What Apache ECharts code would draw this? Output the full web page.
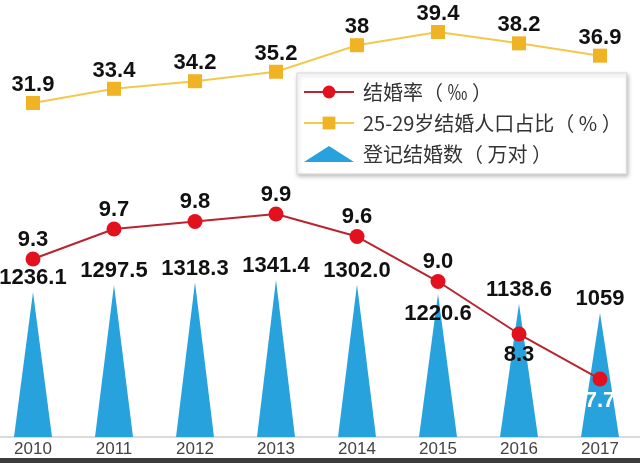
<!DOCTYPE html>
<html>
<head>
<meta charset="utf-8">
<script src="https://cdn.jsdelivr.net/npm/echarts@6/dist/echarts.min.js"></script>
<style>
  html, body { margin: 0; padding: 0; background: #fff; }
  #chart { width: 640px; height: 463px; }
</style>
</head>
<body>
<div id="chart"></div>
<script>
// 年份
const years = ['2010', '2011', '2012', '2013', '2014', '2015', '2016', '2017']
// 登记结婚数（万对）
const marriages = [1236.1, 1297.5, 1318.3, 1341.4, 1302.0, 1220.6, 1138.6, 1059]
// 结婚率（‰）
const rates = [9.3, 9.7, 9.8, 9.9, 9.6, 9.0, 8.3, 7.7]
// 25-29岁结婚人口占比（%）
const shares = [31.9, 33.4, 34.2, 35.2, 38, 39.4, 38.2, 36.9]

const numFont = "'Liberation Sans', Arial, sans-serif"
const cjkFont = "'Noto Sans CJK SC', 'Noto Sans', sans-serif"

// 数字用粗字
const numText = {
  color: '#111',
  fontFamily: numFont,
  fontWeight: 'bold',
  fontSize: 22
}

const barData = marriages.map((v, i) => {
  if (i === 5) {
    // 2015 的数字放在三角里面
    return { value: v, label: { position: 'insideTop', distance: 5, offset: [0, 4] } }
  }
  return v
})

const rateData = rates.map((v, i) => {
  if (i === 6) return { value: v, label: { position: 'bottom', distance: 2 } }
  if (i === 7) return { value: v, label: { position: 'bottom', distance: 3, color: '#fff' } }
  return v
})

const option = {
  animation: false,
  backgroundColor: '#fff',
  grid: { left: 33, right: 40, top: 20, bottom: 26 },
  legend: {
    orient: 'vertical',
    left: 297,
    top: 73,
    padding: [9, 5, 10, 6],
    itemWidth: 50,
    itemHeight: 16,
    itemGap: 11,
    backgroundColor: '#fff',
    borderColor: '#d8d8d8',
    borderWidth: 1,
    shadowColor: 'rgba(0,0,0,0.25)',
    shadowBlur: 4,
    shadowOffsetX: 1,
    shadowOffsetY: 2,
    textStyle: { fontFamily: cjkFont, fontSize: 20, color: '#333', padding: [0, 0, 0, 4] },
    data: [
      { name: '结婚率（ ‰ ）' },
      { name: '25-29岁结婚人口占比（ % ）' },
      { name: '登记结婚数（ 万对 ）', icon: 'triangle' }
    ]
  },
  xAxis: {
    type: 'category',
    data: years,
    boundaryGap: false,
    axisTick: { show: false },
    axisLine: { show: false },
    axisLabel: { color: '#444', fontSize: 17, fontFamily: "'Liberation Sans', sans-serif", margin: 4 }
  },
  yAxis: [
    { type: 'value', min: 0, max: 3561, show: false, splitLine: { show: false } },
    { type: 'value', min: 6.927, max: 12.487, show: false, splitLine: { show: false } },
    { type: 'value', min: -3.368, max: 40.665, show: false, splitLine: { show: false } }
  ],
  series: [
    {
      name: '登记结婚数（ 万对 ）',
      type: 'pictorialBar',
      yAxisIndex: 0,
      symbol: 'triangle',
      symbolSize: [38, '100%'],
      itemStyle: { color: '#28a2dc' },
      label: {
        show: true,
        position: 'top',
        distance: 3,
        ...numText,
        formatter: (p) => p.value === 1059 ? '1059' : p.value.toFixed(1)
      },
      data: barData,
      z: 1
    },
    {
      name: '结婚率（ ‰ ）',
      type: 'line',
      yAxisIndex: 1,
      clip: false,
      symbol: 'circle',
      symbolSize: 15,
      lineStyle: { color: '#b8252f', width: 2 },
      itemStyle: { color: '#e3101e' },
      label: {
        show: true,
        position: 'top',
        distance: 1,
        ...numText,
        formatter: (p) => p.value.toFixed(1)
      },
      data: rateData,
      z: 3
    },
    {
      name: '25-29岁结婚人口占比（ % ）',
      type: 'line',
      yAxisIndex: 2,
      clip: false,
      symbol: 'rect',
      symbolSize: 14,
      lineStyle: { color: '#f2c94c', width: 2 },
      itemStyle: { color: '#f0b323' },
      label: {
        show: true,
        position: 'top',
        distance: 0,
        ...numText
      },
      data: shares,
      z: 3
    }
  ],
  graphic: [
    {
      // 横轴线贯穿整幅图
      type: 'rect',
      left: 0,
      top: 436.5,
      shape: { width: 640, height: 1 },
      style: { fill: '#b5b5b5' },
      z: 0
    },
    {
      type: 'rect',
      left: 0,
      bottom: 0,
      shape: { width: 640, height: 5 },
      style: { fill: '#3c3c3c' }
    }
  ]
}

const myChart = echarts.init(document.getElementById('chart'))
myChart.setOption(option)
</script>
</body>
</html>
